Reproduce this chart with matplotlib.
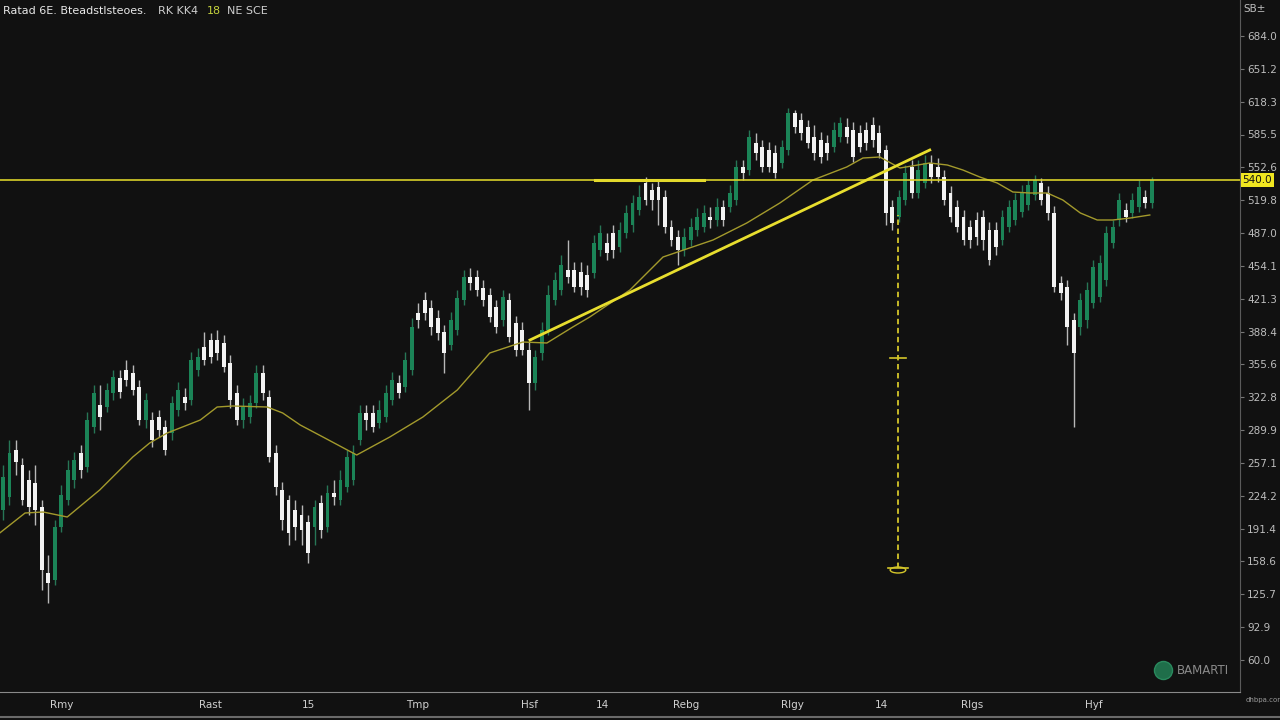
import matplotlib
matplotlib.use("Agg")
import matplotlib.pyplot as plt
from matplotlib.lines import Line2D
from matplotlib.patches import Ellipse
import numpy as np

# candle data (price units), one entry per candle
opens = [210, 223, 270, 255, 240, 237, 213, 147, 140, 193,
         220, 240, 267, 253, 293, 315, 313, 327, 342, 350,
         347, 333, 300, 300, 303, 293, 287, 310, 323, 320,
         350, 373, 380, 380, 377, 357, 327, 300, 303, 317,
         347, 323, 267, 230, 220, 210, 205, 198, 193, 217,
         193, 227, 220, 233, 240, 280, 307, 307, 297, 303,
         320, 337, 333, 350, 407, 420, 412, 402, 388, 375,
         390, 420, 443, 443, 432, 425, 413, 400, 420, 397,
         390, 370, 337, 367, 390, 420, 430, 450, 450, 448,
         445, 447, 470, 477, 487, 473, 487, 495, 510, 537,
         530, 533, 523, 493, 483, 470, 480, 490, 493, 503,
         500, 513, 513, 520, 553, 550, 577, 573, 570, 567,
         557, 570, 607, 600, 593, 583, 580, 577, 573, 583,
         593, 590, 587, 590, 595, 587, 570, 513, 503, 520,
         553, 527, 537, 557, 553, 543, 527, 513, 503, 493,
         500, 503, 490, 490, 480, 493, 500, 508, 515, 525,
         537, 527, 507, 437, 433, 400, 393, 400, 417, 423,
         440, 477, 500, 510, 507, 513, 523, 517]
closes = [243, 267, 258, 220, 213, 210, 150, 137, 193, 225,
          250, 260, 250, 300, 327, 303, 330, 343, 328, 340,
          330, 300, 320, 280, 290, 270, 317, 330, 317, 360,
          363, 360, 363, 367, 353, 320, 300, 313, 317, 347,
          327, 263, 233, 200, 187, 193, 190, 167, 213, 190,
          227, 223, 240, 263, 267, 307, 300, 293, 310, 327,
          340, 327, 360, 393, 400, 407, 393, 387, 367, 400,
          422, 443, 437, 430, 420, 403, 393, 423, 383, 370,
          370, 337, 363, 390, 425, 440, 455, 443, 433, 433,
          430, 477, 487, 467, 470, 490, 507, 517, 523, 520,
          520, 520, 493, 480, 470, 483, 493, 503, 507, 500,
          513, 500, 527, 553, 547, 583, 567, 553, 553, 547,
          573, 607, 593, 587, 577, 567, 563, 567, 590, 597,
          583, 563, 573, 577, 580, 567, 507, 497, 523, 547,
          527, 550, 557, 543, 543, 520, 503, 493, 480, 480,
          483, 480, 460, 473, 503, 513, 520, 527, 535, 540,
          520, 507, 433, 427, 393, 367, 420, 430, 453, 457,
          487, 493, 520, 503, 520, 533, 517, 540]
highs = [255, 280, 280, 262, 250, 255, 220, 165, 200, 235,
         260, 268, 275, 308, 335, 335, 337, 350, 350, 360,
         355, 340, 327, 308, 310, 300, 324, 338, 332, 368,
         372, 388, 387, 390, 385, 365, 335, 322, 325, 355,
         355, 330, 275, 238, 225, 220, 215, 205, 220, 225,
         235, 240, 250, 270, 275, 315, 315, 315, 320, 335,
         348, 345, 368, 402, 417, 428, 420, 410, 395, 408,
         430, 450, 452, 450, 440, 432, 420, 430, 427, 404,
         398, 378, 370, 398, 435, 448, 465, 480, 458, 458,
         455, 485, 495, 487, 495, 498, 515, 525, 535, 543,
         537, 540, 530, 500, 490, 492, 502, 512, 515, 513,
         522, 520, 535, 560, 560, 590, 587, 580, 578, 575,
         580, 612, 610, 607, 600, 595, 588, 585, 598, 603,
         602, 598, 595, 598, 603, 595, 575, 520, 530, 555,
         560, 560, 565, 565, 562, 550, 534, 520, 510, 500,
         508, 510, 498, 498, 510, 520, 527, 535, 540, 545,
         542, 534, 514, 444, 440, 407, 427, 438, 460, 465,
         494, 500, 527, 517, 527, 540, 530, 543]
lows = [200, 215, 245, 215, 205, 195, 130, 117, 135, 188,
        215, 232, 242, 248, 287, 290, 308, 320, 322, 334,
        325, 295, 292, 273, 283, 265, 280, 304, 310, 315,
        344, 355, 357, 360, 348, 312, 295, 292, 297, 312,
        320, 258, 225, 190, 175, 180, 175, 157, 175, 182,
        188, 215, 215, 228, 235, 275, 290, 288, 292, 298,
        315, 322, 328, 345, 392, 400, 385, 380, 347, 370,
        385, 415, 430, 424, 414, 398, 387, 394, 378, 364,
        365, 310, 330, 360, 385, 415, 425, 437, 428, 425,
        423, 442, 464, 460, 462, 468, 482, 488, 505, 515,
        510, 495, 487, 474, 455, 464, 474, 484, 488, 492,
        494, 494, 508, 515, 540, 545, 560, 548, 548, 542,
        552, 565, 587, 580, 572, 560, 557, 560, 568, 578,
        577, 558, 568, 570, 573, 562, 495, 490, 498, 515,
        522, 522, 532, 537, 538, 515, 498, 488, 475, 472,
        475, 470, 455, 465, 475, 488, 495, 503, 510, 520,
        515, 500, 428, 420, 375, 293, 385, 392, 412, 418,
        434, 472, 494, 498, 502, 508, 512, 512]

# moving average line, sampled at candle positions
ma_x = [-0.5, 3.4, 6.2, 9.9, 14.9, 20, 22.6, 25.3, 30.4, 33, 35.4, 40.7, 43.1,
        45.8, 49.3, 54.5, 59.6, 64.7, 70, 75, 80.1, 83.8, 87.8, 90.4, 96.6,
        101.7, 109.4, 114.6, 119.7, 124.8, 130, 132.5, 135.1, 138.2, 142.8,
        145.5, 147.9, 150.5, 153.2, 155.6, 158.2, 160.9, 163.3, 166, 168.6,
        171, 173.7, 176.7]
ma_y = [187, 207, 208, 203, 230, 263, 277, 287, 300, 313, 314, 313, 307,
        295, 283, 265, 283, 303, 330, 367, 378, 377, 393, 403, 430,
        463, 480, 497, 517, 540, 553, 562, 563, 552, 557,
        555, 550, 543, 537, 528, 527, 527, 520, 507, 500,
        500, 502, 505]

# drawings
trend_x = [81.2, 142.8]
trend_y = [380, 570]
level = 540
vline_x = 137.9
vline_top, vline_mid, vline_bot = 505, 362, 152

ytick_vals = [684, 651.2, 618.3, 585.5, 552.6, 519.8, 487, 454.1, 421.3, 388.4,
              355.6, 322.8, 289.9, 257.1, 224.2, 191.4, 158.6, 125.7, 92.9, 60]
xtick_pos = [9.1, 32, 47, 63.9, 81.2, 92.4, 105.2, 121.7, 135.4, 149.3, 168]
xtick_labels = ["Rmy", "Rast", "15", "Tmp", "Hsf", "14", "Rebg", "Rlgy", "14", "Rlgs", "Hyf"]

BG = "#111111"
GREEN = "#1b8457"
WHITE = "#f2f2f2"

fig = plt.figure(figsize=(12.8, 7.2), dpi=100, facecolor=BG)
ax = fig.add_axes([0, 28 / 720, 1240 / 1280, 692 / 720], facecolor=BG)

x = np.arange(len(opens))
o = np.array(opens)
c = np.array(closes)
up = c >= o
colors = np.where(up, GREEN, WHITE)
wick_colors = np.where(up, "#277656", "#b8b8b8")

ax.vlines(x, lows, highs, colors=wick_colors, linewidth=1, zorder=2)
ax.bar(x, c - o, bottom=o, width=0.6, color=colors, linewidth=0, zorder=3)

ax.plot(ma_x, ma_y, color="#a39a2c", lw=1.0, zorder=4)

# yellow level line, trend line and dashed measure line
ax.axhline(level, color="#d9d02a", lw=1.2, zorder=5)
ax.plot([91.2, 108], [level, level], color="#e3d92c", lw=2.2, zorder=5)
ax.plot(trend_x, trend_y, color="#e8de2e", lw=2, zorder=5)
ax.plot([vline_x, vline_x], [vline_bot, vline_top], color="#d4c62a", lw=1.3,
        ls=(0, (3, 2)), zorder=5)
ax.plot([vline_x - 1.2, vline_x + 1.2], [vline_mid, vline_mid], color="#d4c62a", lw=1.2, zorder=5)
ax.plot([vline_x - 1.5, vline_x + 1.5], [vline_bot, vline_bot], color="#d4c62a", lw=1.2, zorder=5)
ax.add_patch(Ellipse((vline_x, vline_bot - 2), 2.4, 6, fill=False, ec="#d4c62a", lw=1, zorder=5))

ax.set_xlim(-0.46, 190.6)
ax.set_ylim(28, 720)

for s in ["top", "left"]:
    ax.spines[s].set_visible(False)
ax.spines["right"].set_color("#5a5a5a")
ax.spines["bottom"].set_color("#8a8a8a")

ax.yaxis.tick_right()
ax.set_yticks(ytick_vals)
ax.set_yticklabels([f"{v:.1f}" for v in ytick_vals])
ax.tick_params(axis="y", length=3, color="#777777", labelcolor="#bdbdbd",
               labelsize=7.5, pad=2)
ax.set_xticks(xtick_pos)
ax.set_xticklabels(xtick_labels)
ax.tick_params(axis="x", length=0, labelcolor="#d0d0d0", labelsize=7.5, pad=6)

# highlighted price label on the level
ax.text(1.002, level, f"{level:.1f}", transform=ax.get_yaxis_transform(),
        color="#111111", fontsize=7.5, va="center", ha="left",
        bbox=dict(boxstyle="square,pad=0.15", fc="#f0e620", ec="none"))

# header text
fig.text(3 / 1280, 1 - 11 / 720, "Ratad 6E. Bteadstlsteoes.", color="#e8e8e8",
         fontsize=8, va="center")
fig.text(158 / 1280, 1 - 11 / 720, "RK KK4", color="#cfcfcf", fontsize=8, va="center")
fig.text(207 / 1280, 1 - 11 / 720, "18", color="#c4d23c", fontsize=8, va="center")
fig.text(227 / 1280, 1 - 11 / 720, "NE SCE", color="#cfcfcf", fontsize=8, va="center")
fig.text(1243 / 1280, 1 - 9 / 720, "SB±", color="#bdbdbd", fontsize=7.5, va="center")
fig.text(1246 / 1280, 1 - 700 / 720, "dhbpa.cor", color="#9a9a9a", fontsize=5, va="center")

# watermark logo
fig.add_artist(Line2D([1163 / 1280], [1 - 670 / 720], marker="o", markersize=13,
                      markerfacecolor="#1f6e4a", markeredgecolor="#2a8a5e",
                      transform=fig.transFigure))
fig.text(1177 / 1280, 1 - 670 / 720, "BAMARTI", color="#8a8a8a", fontsize=8.5, va="center")

fig.add_artist(Line2D([0, 1], [3 / 720, 3 / 720], color="#6a6a6a", lw=1.5))

fig.savefig("out.png", dpi=100, facecolor=BG)
